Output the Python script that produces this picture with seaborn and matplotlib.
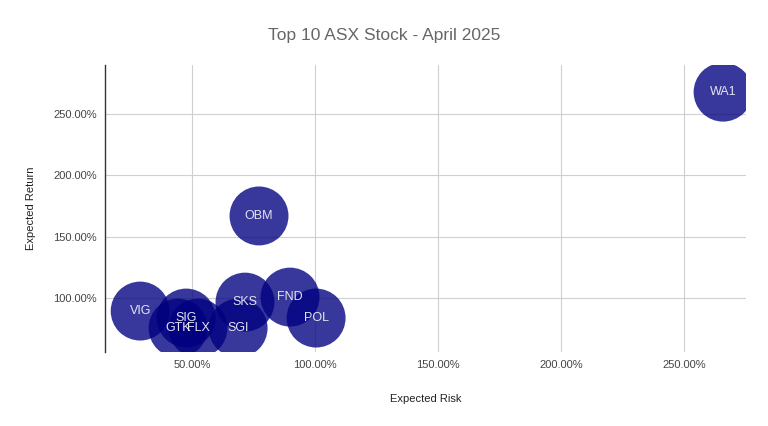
import matplotlib
matplotlib.use("Agg")
import pandas as pd
import seaborn as sns
from matplotlib import pyplot as plt
from matplotlib.ticker import FuncFormatter

# values (percent)
tickers = ["WA1", "OBM", "VIG", "SIG", "GTK", "FLX", "SGI", "SKS", "FND", "POL"]
risk = [265.8, 77.2, 28.9, 47.6, 44.3, 52.4, 68.7, 71.5, 89.8, 100.4]
ret = [268.0, 167.0, 89.4, 83.7, 75.5, 75.5, 75.5, 96.7, 100.8, 83.7]

df = pd.DataFrame({"Ticker": tickers, "Expected Risk": risk, "Expected Return": ret})

sns.set_style("white")
plt.rcParams["font.family"] = ["Liberation Sans", "DejaVu Sans"]

fig = plt.figure(figsize=(7.68, 4.26), dpi=100)
ax = fig.add_axes([0.1367, 0.1737, 0.8343, 0.6733])

sns.scatterplot(data=df, x="Expected Risk", y="Expected Return", s=1800,
                color="#000080", alpha=0.78, edgecolor="none", ax=ax,
                legend=False, zorder=3)

for t, xv, yv in zip(df["Ticker"], df["Expected Risk"], df["Expected Return"]):
    ax.text(xv, yv, t, color="#e4e4f0", fontsize=9, ha="center", va="center", zorder=4)

ax.set_xlim(14.6, 275)
ax.set_ylim(56, 290)
ax.set_xticks([50, 100, 150, 200, 250])
ax.set_yticks([100, 150, 200, 250])
fmt = FuncFormatter(lambda v, p: f"{v:.2f}%")
ax.xaxis.set_major_formatter(fmt)
ax.yaxis.set_major_formatter(fmt)
ax.tick_params(length=0, labelsize=8, labelcolor="#444444", pad=6)
ax.grid(True, color="#d0d0d0", linewidth=0.8, zorder=0)
ax.set_axisbelow(True)
for side in ["top", "right", "bottom"]:
    ax.spines[side].set_visible(False)
ax.spines["left"].set_color("#333333")
ax.spines["left"].set_linewidth(1)

ax.set_xlabel("Expected Risk", fontsize=8, color="#222222", labelpad=17)
ax.set_ylabel("Expected Return", fontsize=8, color="#222222", labelpad=12)
fig.suptitle("Top 10 ASX Stock - April 2025", fontsize=12.5, color="#666666", y=0.935)

fig.savefig("out.png", dpi=100)
